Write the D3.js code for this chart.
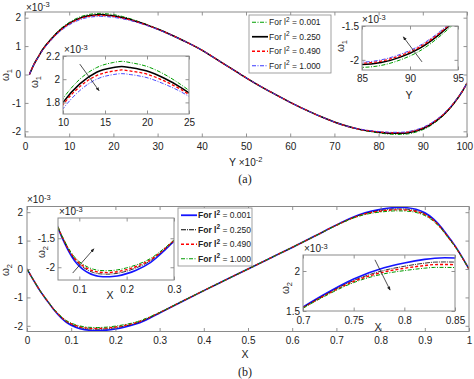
<!DOCTYPE html>
<html><head><meta charset="utf-8">
<script src="https://cdn.jsdelivr.net/npm/d3@7"></script>
<style>
body{margin:0;background:#fff;}
svg{display:block;font-family:"Liberation Sans",Arial,Helvetica,sans-serif;}
</style></head><body>
<svg id="c" width="474" height="379"></svg>
<script>
// ---------- DATA (values ×10^-3) ----------
const lSquared = ["0.001", "0.250", "0.490", "1.000"];

// Panel (a): omega_1 vs Y (×10^-2)
const yA = [1,2,3,4,5,6,8,10,12,14,16,17,18,20,22,24,26,28,30,33,36,40,44,48,52,56,60,64,68,72,76,80,83,85,87,89,91,93,95,97,99,100];
const a_l001 = [0,0.355,0.63,0.895,1.10,1.28,1.60,1.833,2.00,2.10,2.144,2.154,2.143,2.11,2.045,1.955,1.848,1.732,1.608,1.404,1.18,0.86,0.47,0.08,-0.30,-0.65,-0.98,-1.28,-1.55,-1.78,-1.95,-2.055,-2.105,-2.11,-2.082,-2.00,-1.87,-1.665,-1.40,-1.04,-0.59,-0.30];
const a_l025 = [0,0.35,0.62,0.88,1.08,1.26,1.57,1.80,1.96,2.06,2.10,2.11,2.10,2.07,2.01,1.93,1.83,1.72,1.60,1.40,1.18,0.86,0.47,0.08,-0.30,-0.65,-0.98,-1.28,-1.55,-1.78,-1.94,-2.03,-2.07,-2.07,-2.04,-1.96,-1.83,-1.63,-1.37,-1.02,-0.58,-0.30];
const a_l049 = [0,0.347,0.615,0.87,1.067,1.245,1.552,1.78,1.936,2.031,2.07,2.08,2.071,2.043,1.987,1.913,1.818,1.712,1.595,1.398,1.18,0.86,0.47,0.08,-0.30,-0.65,-0.98,-1.28,-1.55,-1.78,-1.935,-2.018,-2.05,-2.048,-2.018,-1.937,-1.81,-1.612,-1.355,-1.01,-0.575,-0.30];
const a_l100 = [0,0.343,0.607,0.858,1.05,1.225,1.527,1.745,1.902,2.0,2.04,2.048,2.04,2.013,1.96,1.893,1.805,1.702,1.588,1.394,1.178,0.86,0.47,0.08,-0.30,-0.65,-0.98,-1.28,-1.55,-1.78,-1.93,-2.005,-2.035,-2.033,-2.0,-1.918,-1.79,-1.595,-1.34,-0.995,-0.57,-0.30];

// Panel (b): omega_2 vs X
const xB = [0,0.01,0.02,0.03,0.04,0.05,0.06,0.07,0.08,0.09,0.1,0.11,0.12,0.13,0.14,0.15,0.16,0.17,0.18,0.2,0.22,0.25,0.28,0.3,0.35,0.4,0.45,0.5,0.55,0.6,0.65,0.7,0.72,0.75,0.78,0.8,0.82,0.83,0.84,0.85,0.86,0.88,0.9,0.92,0.94,0.95,0.96,0.97,0.98,0.99,1.0];
const b_l001 = [0,-0.27,-0.53,-0.78,-1.0,-1.21,-1.42,-1.6,-1.76,-1.89,-1.98,-2.05,-2.1,-2.135,-2.155,-2.163,-2.165,-2.16,-2.15,-2.11,-2.05,-1.92,-1.71,-1.55,-1.15,-0.76,-0.38,0,0.38,0.76,1.15,1.55,1.7,1.9,2.04,2.1,2.145,2.16,2.165,2.163,2.155,2.1,1.98,1.76,1.42,1.21,1.0,0.78,0.53,0.27,0];
const b_l025 = [0,-0.269,-0.528,-0.777,-0.997,-1.205,-1.411,-1.585,-1.739,-1.862,-1.946,-2.012,-2.059,-2.092,-2.111,-2.118,-2.12,-2.115,-2.105,-2.067,-2.011,-1.89,-1.693,-1.541,-1.148,-0.76,-0.38,0,0.38,0.76,1.148,1.544,1.689,1.881,2.008,2.059,2.098,2.111,2.113,2.111,2.103,2.053,1.937,1.726,1.394,1.189,0.983,0.767,0.521,0.266,0];
const b_l049 = [0,-0.269,-0.527,-0.776,-0.994,-1.202,-1.406,-1.576,-1.725,-1.845,-1.925,-1.988,-2.034,-2.065,-2.083,-2.09,-2.092,-2.087,-2.077,-2.04,-1.987,-1.871,-1.682,-1.536,-1.147,-0.76,-0.38,0,0.38,0.76,1.147,1.54,1.683,1.869,1.988,2.034,2.068,2.08,2.081,2.079,2.071,2.023,1.91,1.704,1.378,1.175,0.972,0.759,0.516,0.263,0];
const b_l100 = [0,-0.268,-0.526,-0.774,-0.992,-1.198,-1.40,-1.565,-1.71,-1.825,-1.902,-1.962,-2.005,-2.035,-2.052,-2.058,-2.06,-2.055,-2.046,-2.01,-1.96,-1.85,-1.67,-1.53,-1.145,-0.76,-0.38,0,0.38,0.76,1.145,1.535,1.675,1.855,1.965,2.005,2.035,2.045,2.045,2.043,2.035,1.99,1.88,1.68,1.36,1.16,0.96,0.75,0.51,0.26,0];

// Tick values
const aMainXTicks = [0,10,20,30,40,50,60,70,80,90,100];
const mainYTicks = [-2,-1,0,1,2];
const aIn1XTicks = [10,15,20,25], aIn1YTicks = [1.8,2,2.2];
const aIn2XTicks = [85,90,95], aIn2YTicks = [-2,-1.5];
const bMainXTicks = [0,0.1,0.2,0.3,0.4,0.5,0.6,0.7,0.8,0.9,1];
const bIn1XTicks = [0.1,0.2,0.3], bIn1YTicks = [-2,-1.5];
const bIn2XTicks = [0.7,0.75,0.8,0.85], bIn2YTicks = [1.5,2];

// ---------- STYLES ----------
const styleA = [
  {c:"#00a000", w:1.0, d:"4,1.5,1,1.5"},
  {c:"#000000", w:1.5, d:null},
  {c:"#ff0000", w:1.3, d:"3,2"},
  {c:"#3838ff", w:0.9, d:"4,1.5,1,1.5"}
];
const styleB = [
  {c:"#1414ff", w:1.6, d:null},
  {c:"#000000", w:0.8, d:"5,1,1,1"},
  {c:"#ff0000", w:1.4, d:"3,2"},
  {c:"#009a00", w:1.0, d:"4,1.5,1,1.5"}
];
const seriesA = [a_l001,a_l025,a_l049,a_l100].map((v,i)=>({xs:yA, ys:v, st:styleA[i]}));
const seriesB = [b_l001,b_l025,b_l049,b_l100].map((v,i)=>({xs:xB, ys:v, st:styleB[i]}));

const svg = d3.select("#c");
const defs = svg.append("defs");
defs.append("marker").attr("id","arr").attr("viewBox","0 0 10 10")
  .attr("refX",9).attr("refY",5).attr("markerWidth",5).attr("markerHeight",5)
  .attr("orient","auto").append("path").attr("d","M0,1L10,5L0,9Z").attr("fill","#222");

const fmt = d => String(d);
let clipN = 0;

function panel(cfg){
  const {x0,x1,y0,y1,xd,yd,xt,yt,series,padX=6,padY=3,fs=10} = cfg;
  const x = d3.scaleLinear().domain(xd).range([x0,x1]);
  const y = d3.scaleLinear().domain(yd).range([y1,y0]);
  const g = svg.append("g");
  g.append("rect").attr("x",x0).attr("y",y0).attr("width",x1-x0).attr("height",y1-y0).attr("fill","#fff");
  const id = "clip"+(clipN++);
  defs.append("clipPath").attr("id",id).append("rect")
    .attr("x",x0).attr("y",y0).attr("width",x1-x0).attr("height",y1-y0);
  const lg = g.append("g").attr("clip-path",`url(#${id})`);
  const line = d3.line().x(d=>x(d[0])).y(d=>y(d[1])).curve(d3.curveMonotoneX);
  series.forEach(s=>{
    lg.append("path").datum(d3.zip(s.xs,s.ys)).attr("d",line)
      .attr("fill","none").attr("stroke",s.st.c).attr("stroke-width",s.st.w)
      .attr("stroke-dasharray",s.st.d);
  });
  const tk = 3.5;
  const ax = [
    g.append("g").attr("class","bx").attr("transform",`translate(0,${y1})`).call(d3.axisBottom(x).tickValues(xt).tickSize(-tk).tickPadding(padX).tickFormat(fmt)),
    g.append("g").attr("transform",`translate(0,${y0})`).call(d3.axisTop(x).tickValues(xt).tickSize(-tk).tickFormat("")),
    g.append("g").attr("transform",`translate(${x0},0)`).call(d3.axisLeft(y).tickValues(yt).tickSize(-tk).tickPadding(padY).tickFormat(fmt)),
    g.append("g").attr("transform",`translate(${x1},0)`).call(d3.axisRight(y).tickValues(yt).tickSize(-tk).tickFormat(""))
  ];
  ax.forEach(a=>{
    a.select(".domain").remove();
    a.selectAll(".tick line").attr("stroke","#777").attr("stroke-width",0.8);
    a.selectAll(".tick text").attr("fill","#222").attr("font-size",fs)
      .attr("font-family",'"Liberation Sans",Arial,sans-serif');
  });
  // keep the last bottom tick label inside the canvas
  ax[0].selectAll(".tick text").each(function(){
    const bb = this.getBBox(), m = this.getCTM();
    const right = m.e + bb.x + bb.width;
    if (right > 473.5) d3.select(this).attr("dx", 473.5 - right);
  });
  g.append("rect").attr("x",x0).attr("y",y0).attr("width",x1-x0).attr("height",y1-y0)
    .attr("fill","none").attr("stroke","#8a8a8a").attr("stroke-width",1);
  return {x,y,g};
}

function expLabel(x,y,exp){
  const t = svg.append("text").attr("x",x).attr("y",y).attr("font-size",10).attr("fill","#222");
  t.append("tspan").text("×10");
  t.append("tspan").attr("dy",-3.5).attr("font-size",7.5).text(exp);
}
function omegaLabel(x,y,sub){
  const t = svg.append("text").attr("transform",`translate(${x},${y}) rotate(-90)`)
    .attr("text-anchor","middle").attr("font-size",10).attr("fill","#222");
  t.append("tspan").text("ω");
  t.append("tspan").attr("dy",2.5).attr("font-size",7.5).text(sub);
}
function arrow(p, from, to){
  svg.append("line").attr("x1",p.x(from[0])).attr("y1",p.y(from[1]))
    .attr("x2",p.x(to[0])).attr("y2",p.y(to[1]))
    .attr("stroke","#222").attr("stroke-width",0.8).attr("marker-end","url(#arr)");
}
function legend(x0,y0,w,h,rows,styles,boldFor){
  svg.append("rect").attr("x",x0).attr("y",y0).attr("width",w).attr("height",h)
    .attr("fill","#fff").attr("stroke","#8a8a8a").attr("stroke-width",0.8);
  const step = h/4;
  rows.forEach((r,i)=>{
    const cy = y0 + step*(i+0.5);
    const st = styles[i];
    svg.append("line").attr("x1",x0+3).attr("x2",x0+19).attr("y1",cy).attr("y2",cy)
      .attr("stroke",st.c).attr("stroke-width",st.w+0.2).attr("stroke-dasharray",st.d);
    const t = svg.append("text").attr("x",x0+20).attr("y",cy+3).attr("font-size",8.5).attr("fill","#222");
    t.append("tspan").attr("font-weight",boldFor?"bold":"normal").text("For l");
    t.append("tspan").attr("dy",-3.5).attr("font-size",6.5).attr("font-weight",boldFor?"bold":"normal").text("2");
    t.append("tspan").attr("dy",3.5).text(" = " + r);
  });
}

// ---------- PANEL (a) ----------
const pa = panel({x0:25,x1:467,y0:12,y1:137,xd:[0,100],yd:[-2.2,2.2],xt:aMainXTicks,yt:mainYTicks,series:seriesA,padX:6,padY:4});
expLabel(26,10.5,"-3");
omegaLabel(9,75,"1");
const ya = svg.append("text").attr("x",229).attr("y",166).attr("font-size",10.5).attr("fill","#222");
ya.append("tspan").text("Y ");
ya.append("tspan").attr("font-size",10).text("×10");
ya.append("tspan").attr("dy",-4).attr("font-size",7.5).text("-2");
svg.append("text").attr("x",245).attr("y",183).attr("text-anchor","middle")
  .attr("font-family",'"Liberation Serif","Times New Roman",serif').attr("font-size",12).attr("fill","#222").text("(a)");

legend(249,15,82,58,lSquared,styleA,false);

const pa1 = panel({x0:63,x1:189,y0:56,y1:114,xd:[10,25],yd:[1.7,2.2],xt:aIn1XTicks,yt:aIn1YTicks,series:seriesA,padX:5,padY:3});
expLabel(64,53,"-3");
omegaLabel(38,82,"1");
arrow(pa1,[12.0,2.13],[14.3,1.90]);

const pa2 = panel({x0:362,x1:458,y0:26,y1:70,xd:[85,95],yd:[-2.15,-1.5],xt:aIn2XTicks,yt:aIn2YTicks,series:seriesA,padX:5,padY:3});
expLabel(362,23,"-3");
omegaLabel(344,46,"1");
svg.append("text").attr("x",409).attr("y",99).attr("text-anchor","middle").attr("font-size",10.5).attr("fill","#222").text("Y");
arrow(pa2,[91.25,-2.03],[89.3,-1.66]);

// ---------- PANEL (b) ----------
const pb = panel({x0:27,x1:469,y0:206.5,y1:331.5,xd:[0,1],yd:[-2.2,2.2],xt:bMainXTicks,yt:mainYTicks,series:seriesB,padX:5,padY:4});
expLabel(27,203,"-3");
omegaLabel(9,270,"2");
svg.append("text").attr("x",245).attr("y",358).attr("text-anchor","middle").attr("font-size",10.5).attr("fill","#222").text("X");
svg.append("text").attr("x",245).attr("y",376).attr("text-anchor","middle")
  .attr("font-family",'"Liberation Serif","Times New Roman",serif').attr("font-size",12).attr("fill","#222").text("(b)");

const pb1 = panel({x0:58,x1:174,y0:218,y1:280,xd:[0.055,0.3],yd:[-2.22,-1.15],xt:bIn1XTicks,yt:bIn1YTicks,series:seriesB,padX:6,padY:3});
expLabel(59,215,"-3");
omegaLabel(45,252,"2");
svg.append("text").attr("x",110).attr("y",299).attr("text-anchor","middle").attr("font-size",10.5).attr("fill","#222").text("X");
arrow(pb1,[0.086,-2.10],[0.131,-1.68]);

legend(178,208,74,58,lSquared,styleB,true);

const pb2 = panel({x0:303,x1:455,y0:255,y1:311,xd:[0.7,0.85],yd:[1.5,2.2],xt:bIn2XTicks,yt:bIn2YTicks,series:seriesB,padX:6,padY:3});
expLabel(304,252,"-3");
omegaLabel(289,288,"2");
svg.append("text").attr("x",378).attr("y",331).attr("text-anchor","middle").attr("font-size",10.5).attr("fill","#222").text("X");
arrow(pb2,[0.771,2.14],[0.786,1.76]);
</script>
</body></html>
